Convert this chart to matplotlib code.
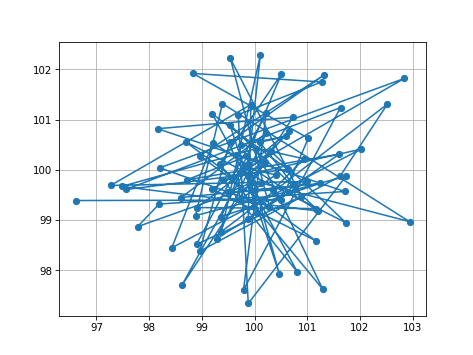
import matplotlib
matplotlib.use("Agg")
import matplotlib.pyplot as plt

# points, in drawing order (approximate order)
xs = [96.61, 100.51, 101.02, 98.83, 101.27, 99.69, 99.88, 101.73, 98.88, 99.39,
      102.94, 100.12, 97.78, 98.19, 101.71, 98.16, 100.73, 98.62, 99.88, 100.11,
      99.37, 102.52, 101.62, 98.96, 99.53, 101.32, 98.96, 101.16, 99.19, 102.84,
      98.20, 100.28, 99.54, 100.89, 98.90, 100.22, 99.79, 101.63, 97.56, 100.63,
      99.20, 100.81, 99.40, 102.01, 98.43, 99.21, 101.21, 97.48, 100.02, 101.29,
      99.34, 100.51, 99.37, 101.24, 98.61, 100.22, 99.28, 100.99, 97.27, 99.93,
      99.88, 101.60, 98.71, 99.85, 100.47, 99.53, 101.16, 98.91, 100.31, 101.73,
      98.69, 99.60, 100.66, 99.90, 100.05, 99.80, 100.40, 99.72, 99.65, 100.20,
      99.95, 99.50, 100.35, 100.94, 99.75, 100.60, 100.10, 100.76, 100.00]
ys = [99.39, 99.40, 100.63, 101.92, 101.75, 101.10, 97.34, 99.87, 99.09, 101.32,
      98.97, 99.74, 98.87, 99.32, 99.57, 100.82, 101.05, 97.70, 100.11, 102.29,
      98.77, 101.31, 99.87, 98.38, 100.56, 101.89, 100.28, 98.59, 99.62, 101.82,
      100.04, 99.27, 102.22, 99.47, 98.52, 101.13, 97.61, 101.24, 99.61, 100.01,
      101.11, 97.97, 99.80, 100.41, 98.45, 100.54, 99.18, 99.67, 100.42, 97.63,
      100.11, 101.91, 99.07, 99.73, 99.45, 100.73, 98.63, 99.77, 99.69, 101.30,
      99.03, 100.31, 99.80, 100.27, 97.93, 100.90, 99.23, 99.25, 100.37, 98.95,
      100.56, 99.85, 100.77, 99.90, 99.15, 100.05, 99.90, 99.41, 100.30, 100.15,
      99.75, 99.55, 99.60, 100.22, 100.50, 100.67, 100.55, 99.67, 99.60]

fig = plt.figure(figsize=(6.4, 4.8), dpi=74)
plt.plot(xs, ys, "o-")
plt.grid(True)
plt.savefig("out.png")
